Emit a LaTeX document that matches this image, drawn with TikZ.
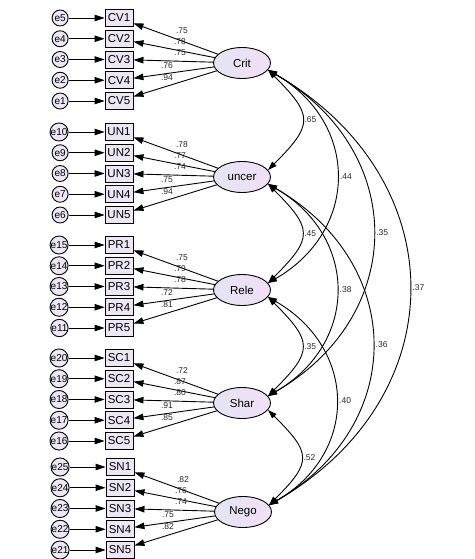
\documentclass[tikz,border=0pt]{standalone}
\usepackage{fontspec}
\setmainfont{Liberation Sans}
\usetikzlibrary{positioning,calc,arrows.meta,shapes.geometric}
\definecolor{boxfill}{RGB}{236,230,245}
\definecolor{latleft}{RGB}{228,228,242}
\definecolor{latright}{RGB}{242,224,246}
\definecolor{valgray}{RGB}{40,40,40}

\begin{document}
\begin{tikzpicture}[
		x=1pt, y=1pt,
		link/.style={
			-{Triangle[length=10pt,width=6.5pt]},
			line width=0.9pt,
		},
		cov/.style={
			{Triangle[length=9pt,width=6pt]}-{Triangle[length=9pt,width=6pt]},
			line width=0.9pt,
			out=-30, in=30, looseness=1.27,
		},
		near/.style={
			out=-45, in=45, looseness=1.65,
		},
		latent/.style={
			draw,
			ellipse,
			line width=0.9pt,
			minimum width=57pt,
			minimum height=31pt,
			left color=latleft,
			right color=latright,
			font=\fontsize{11.5}{12}\selectfont,
		},
		indic/.style={
			draw,
			fill=boxfill,
			line width=0.9pt,
			minimum width=28pt,
			minimum height=17pt,
			inner sep=0pt,
			font=\fontsize{11.5}{12}\selectfont,
		},
		err/.style={
			draw,
			circle,
			fill=boxfill,
			line width=0.9pt,
			minimum size=16pt,
			inner sep=0pt,
			font=\fontsize{10}{10}\selectfont,
		},
		coef/.style={
			font=\fontsize{8.5}{9}\selectfont,
			text=valgray,
			inner sep=1pt,
		},
	]
	\useasboundingbox (0,0) rectangle (474,-559);

	\node [latent] (Crit) at (242,-63) {Crit};
	\node [latent] (uncer) at (242,-177) {uncer};
	\node [latent] (Rele) at (242,-290) {Rele};
	\node [latent] (Shar) at (242,-403) {Shar};
	\node [latent] (Nego) at (243,-512) {Nego};

	\foreach \lat/\ind/\e/\a/\b/\c/\d/\f in {
		Crit/CV/0/.75/.78/.75/.76/.94,
		uncer/UN/5/.78/.77/.74/.75/.94,
		Rele/PR/10/.75/.79/.78/.72/.81,
		Shar/SC/15/.72/.87/.80/.91/.85,
		Nego/SN/20/.82/.76/.74/.75/.82}{
		\foreach \i in {1,...,5}{
			\pgfmathtruncatemacro{\en}{\e+6-\i}
			\node [indic] (\ind\i) at ($(\lat)+(-123,45-20.75*\i+20.75)$) {\ind\i};
			\node [err, left=36pt of \ind\i] (e\en) {e\en};
			\draw [link] (e\en) -- (\ind\i);
			\draw [link] (\lat) -- (\ind\i);
		}
		\node [coef] at ($(\lat)+(-60,32)$) {\a};
		\node [coef] at ($(\lat)+(-62,21)$) {\b};
		\node [coef] at ($(\lat)+(-62,10)$) {\c};
		\node [coef] at ($(\lat)+(-75,-3)$) {\d};
		\node [coef] at ($(\lat)+(-75,-15)$) {\f};
	}

	\draw [cov, near] (Crit.-15) to node [coef, right=1pt] {.65} (uncer.15);
	\draw [cov] (Crit.-15) to node [coef, right=2pt] {.44} (Rele.15);
	\draw [cov] (Crit.-15) to node [coef, right=2pt] {.35} (Shar.15);
	\draw [cov] (Crit.-15) to node [coef, right=2pt] {.37} (Nego.15);
	\draw [cov, near] (uncer.-15) to node [coef, right=1pt] {.45} (Rele.15);
	\draw [cov] (uncer.-15) to node [coef, right=2pt] {.38} (Shar.15);
	\draw [cov] (uncer.-15) to node [coef, right=2pt] {.36} (Nego.15);
	\draw [cov, near] (Rele.-15) to node [coef, right=1pt] {.35} (Shar.15);
	\draw [cov] (Rele.-15) to node [coef, right=2pt] {.40} (Nego.15);
	\draw [cov, near] (Shar.-15) to node [coef, right=1pt] {.52} (Nego.15);

\end{tikzpicture}
\end{document}
